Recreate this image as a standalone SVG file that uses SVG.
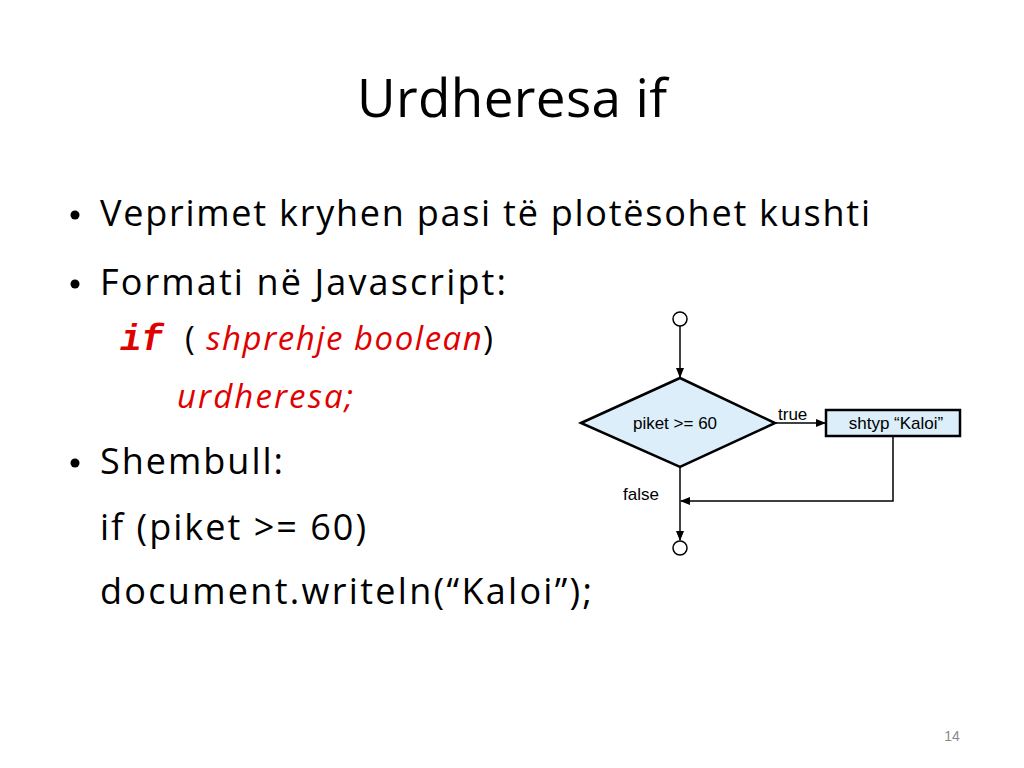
<svg xmlns="http://www.w3.org/2000/svg" width="1024" height="768" viewBox="0 0 1024 768">
<defs>
<marker id="ah" markerWidth="10" markerHeight="8" refX="9" refY="4" orient="auto" markerUnits="userSpaceOnUse"><path d="M0,0 L10,4 L0,8 z" fill="#000"/></marker>
<style>
.t{font-family:"Open Sans","Liberation Sans",sans-serif;fill:#000}
.b{font-size:36px}
.r{fill:#e00000;font-style:italic}
.s{font-family:"Liberation Sans",Arial,sans-serif;font-size:17px;fill:#000}
.ln{stroke:#000;stroke-width:1.5;fill:none}
</style>
</defs>
<rect width="1024" height="768" fill="#fff"/>
<text class="t" x="512" y="117" font-size="53" text-anchor="middle" textLength="310">Urdheresa if</text>
<g class="t b">
<circle cx="75" cy="215" r="4.5"/>
<text x="100" y="226" textLength="770">Veprimet kryhen pasi të plotësohet kushti</text>
<circle cx="75" cy="284" r="4.5"/>
<text x="100" y="295" textLength="406">Formati në Javascript:</text>
<text x="120" y="350" style="font-family:'Liberation Mono',monospace;font-weight:bold;font-style:italic;fill:#e00000">if</text>
<text x="185" y="350" font-size="33" textLength="308"><tspan>(</tspan><tspan class="r"> shprehje boolean</tspan><tspan>)</tspan></text>
<text x="177" y="408" font-size="33" class="r" textLength="176">urdheresa;</text>
<circle cx="75" cy="463" r="4.5"/>
<text x="100" y="474" textLength="183">Shembull:</text>
<text x="100" y="540" textLength="266">if (piket &gt;= 60)</text>
<text x="100" y="604" textLength="492">document.writeln(“Kaloi”);</text>
</g>
<text x="952" y="741" font-family="Liberation Sans,sans-serif" font-size="14" fill="#888" text-anchor="middle">14</text>
<g id="connectors">
<line class="ln" x1="680" y1="326" x2="680" y2="377" marker-end="url(#ah)"/>
<line class="ln" x1="775" y1="423" x2="825" y2="423" marker-end="url(#ah)"/>
<line class="ln" x1="680" y1="467" x2="680" y2="540" marker-end="url(#ah)"/>
<polyline class="ln" points="893,437 893,501 681,501" marker-end="url(#ah)"/>
<text class="s" x="778" y="420" font-size="16">true</text>
<text class="s" x="623" y="500" font-size="16">false</text>
</g>
<g id="start"><circle cx="680" cy="319" r="7" fill="#fff" stroke="#000" stroke-width="1.5"/></g>
<g id="decision"><polygon points="581,423 680,378 775,423 680,467" fill="#dbeefa" stroke="#000" stroke-width="2.5"/><text class="s" x="675" y="429" text-anchor="middle">piket &gt;= 60</text></g>
<g id="action"><rect x="826" y="410" width="134" height="26" fill="#dbeefa" stroke="#000" stroke-width="2.5"/><text class="s" x="896" y="429" text-anchor="middle">shtyp “Kaloi”</text></g>
<g id="end"><circle cx="680" cy="548" r="7" fill="#fff" stroke="#000" stroke-width="1.5"/></g>
</svg>
